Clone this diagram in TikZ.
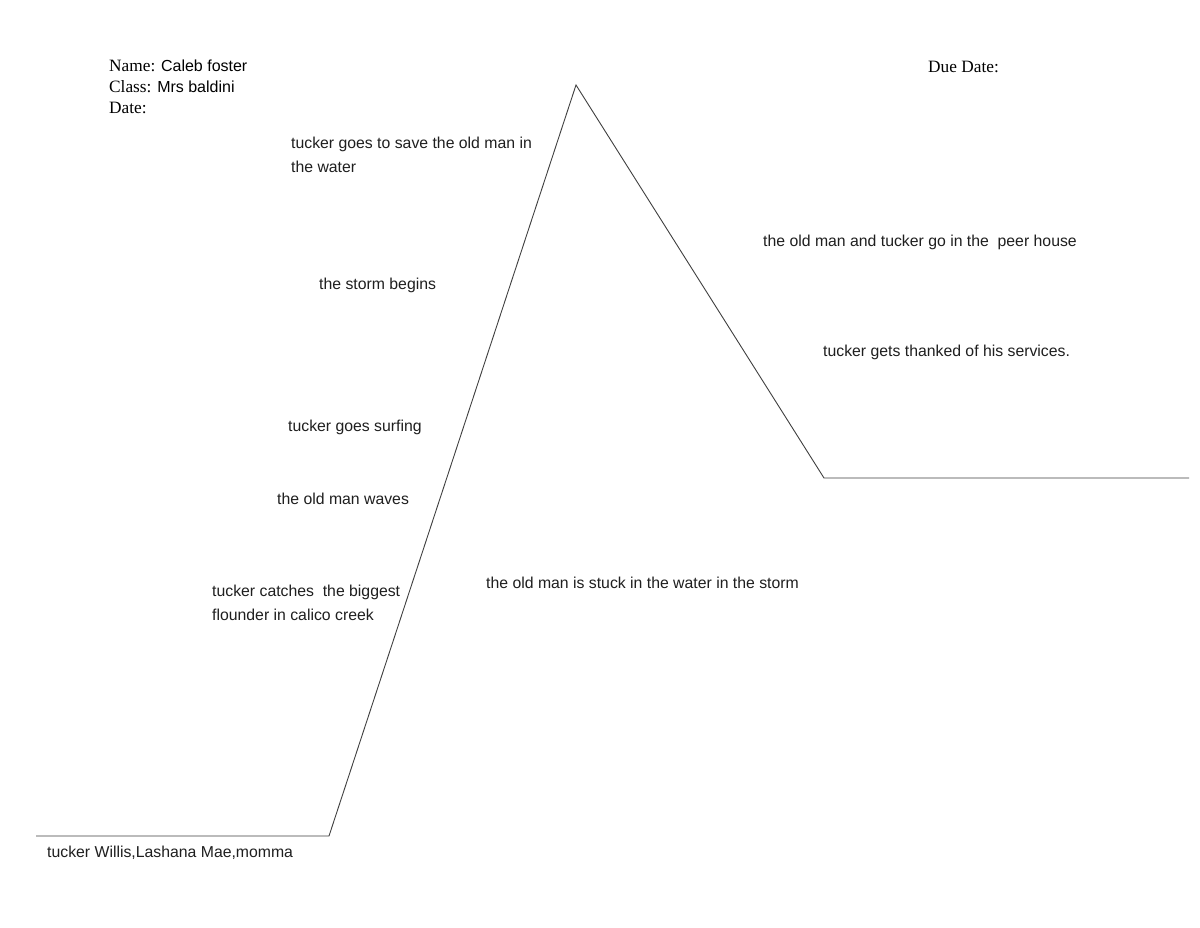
\documentclass[tikz,border=0pt]{standalone}
\usepackage{fontspec}
\setmainfont{Liberation Serif}
\newfontfamily\lbl{Liberation Sans}
\begin{document}
\begin{tikzpicture}[x=1pt,y=-1pt,
  txt/.style={anchor=west,inner sep=0pt,font=\lbl\fontsize{15.8}{23.5}\selectfont,text=black!88,align=left},
  hdr/.style={anchor=west,inner sep=0pt,font=\fontsize{17.3}{21}\selectfont,text=black},
  plot/.style={draw=black!75,line width=0.9pt}]
\useasboundingbox[fill=white] (0,0) rectangle (1200,927);
\coordinate (a) at (36,836);
\coordinate (b) at (329,836);
\coordinate (c) at (576,85);
\coordinate (d) at (824,478);
\coordinate (e) at (1189,478);
\draw[plot] (a) -- (b) -- (c) -- (d) -- (e);
\node[hdr] (name) at (109,66) {Name: {\lbl\fontsize{16}{21}\selectfont Caleb foster}};
\node[hdr] (class) at (109,87) {Class: {\lbl\fontsize{16}{21}\selectfont Mrs baldini}};
\node[hdr] (date) at (109,108) {Date:};
\node[hdr] (due) at (928,67) {Due Date:};
\node[txt] (t1) at (291,155) {tucker goes to save the old man in\\the water};
\node[txt] (t2) at (319,285) {the storm begins};
\node[txt] (t3) at (288,427) {tucker goes surfing};
\node[txt] (t4) at (277,499) {the old man waves};
\node[txt] (t5) at (212,603) {tucker catches\ \ the biggest\\flounder in calico creek};
\node[txt] (t6) at (486,583) {the old man is stuck in the water in the storm};
\node[txt] (t7) at (763,242) {the old man and tucker go in the\ \ peer house};
\node[txt] (t8) at (823,352) {tucker gets thanked of his services.};
\node[txt] (t9) at (47,853) {tucker Willis,Lashana Mae,momma};
\end{tikzpicture}
\end{document}
